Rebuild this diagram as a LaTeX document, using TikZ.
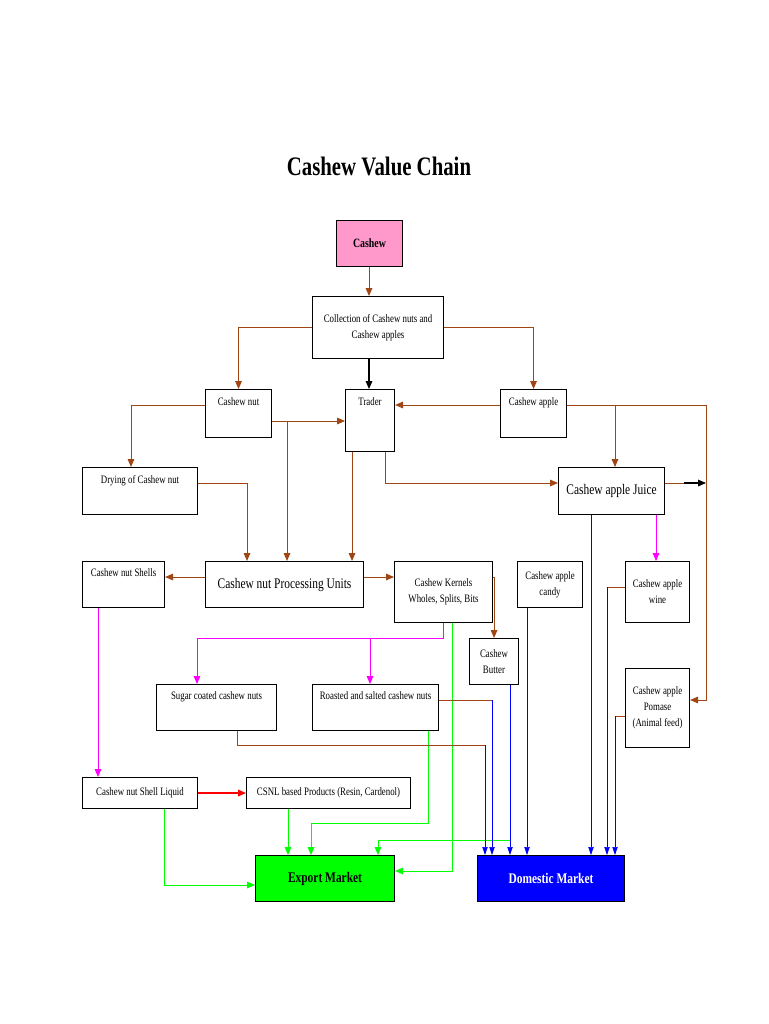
\documentclass[tikz,border=0pt]{standalone}
\usepackage{fontspec}
\setmainfont{Liberation Serif}[FakeStretch=0.78]
\usetikzlibrary{arrows.meta,calc}
\definecolor{br}{RGB}{160,70,20}
\definecolor{pk}{RGB}{255,153,204}
\definecolor{mg}{RGB}{255,0,255}
\definecolor{gr}{RGB}{0,255,0}
\definecolor{bl}{RGB}{0,0,255}
\begin{document}
\begin{tikzpicture}[x=0.75pt,y=-0.75pt,
  box/.style={draw,line width=0.8pt,align=center,inner sep=1pt,font=\fontsize{8.5}{12}\selectfont},
  ba/.style={draw=br,line width=0.7pt,-{Triangle[length=6pt,width=5pt]}},
  bn/.style={draw=br,line width=0.7pt},
  ka/.style={draw=black,line width=0.8pt,-{Triangle[length=6pt,width=5pt]}},
  ma/.style={draw=mg,line width=0.6pt,-{Triangle[length=6pt,width=5pt]}},
  ga/.style={draw=gr,line width=0.7pt,-{Triangle[length=6pt,width=5pt]}},
  la/.style={draw=bl,line width=0.5pt,-{Triangle[length=6pt,width=4pt]}},
  ra/.style={draw=red,line width=1pt,-{Triangle[length=6pt,width=5pt]}}]
\useasboundingbox (0,0) rectangle (768,1024);
\newcommand\bx[7][]{\node[box,#1,minimum width={(#5-#3)*0.75pt},minimum height={(#6-#4)*0.75pt},anchor=north west] (#2) at (#3,#4) {#7};}
\node[font=\fontsize{20}{24}\selectfont\bfseries] (title) at (379,166) {Cashew Value Chain};
\bx[fill=pk,font=\fontsize{9.5}{12}\selectfont\bfseries]{cw}{336}{220}{402}{266}{Cashew}
\bx{col}{312}{296}{443}{358}{Collection of Cashew nuts and\\Cashew apples}
\bx{nut}{205}{389}{271}{437}{Cashew nut\\[6pt]}
\bx{tr}{345}{389}{394}{451}{Trader\\[16pt]}
\bx{ap}{500}{389}{566}{437}{Cashew apple\\[6pt]}
\bx{dry}{82}{467}{197}{514}{Drying of Cashew nut\\[6pt]}
\bx[font=\fontsize{11}{13}\selectfont]{ju}{558}{467}{664}{514}{Cashew apple Juice}
\bx{sh}{82}{561}{164}{607}{Cashew nut Shells\\[6pt]}
\bx[font=\fontsize{11}{13}\selectfont]{pu}{205}{561}{363}{607}{Cashew nut Processing Units}
\bx{ke}{394}{561}{492}{622}{Cashew Kernels\\Wholes, Splits, Bits}
\bx{ca}{517}{561}{582}{607}{Cashew apple\\candy}
\bx{wi}{625}{561}{689}{622}{Cashew apple\\wine}
\bx{bu}{469}{638}{518}{684}{Cashew\\Butter}
\bx{su}{156}{684}{276}{730}{Sugar coated cashew nuts\\[6pt]}
\bx{ro}{312}{684}{438}{730}{Roasted and salted cashew nuts\\[6pt]}
\bx{po}{625}{668}{689}{747}{Cashew apple\\Pomase\\(Animal feed)}
\bx{cl}{82}{777}{197}{808}{Cashew nut Shell Liquid}
\bx{cp}{246}{777}{410}{808}{CSNL based Products (Resin, Cardenol)}
\bx[fill=gr,font=\fontsize{11}{13}\selectfont\bfseries]{ex}{255}{855}{394}{901}{Export Market}
\bx[fill=bl,text=white,font=\fontsize{11}{13}\selectfont\bfseries]{dm}{477}{855}{624}{901}{Domestic Market}
% brown
\draw[ba] (369,0|-cw.south) -- (369,0|-col.north);
\draw[ba] (col.west) -| (nut.north);
\draw[ba] (col.east) -| (ap.north);
\draw[ka] (369,0|-col.south) -- (369,0|-tr.north);
\draw[ba] (nut.west|-0,405) -| (131,0|-dry.north);
\draw[ba] (nut.east|-0,421) -- (tr.west|-0,421);
\draw[ba] (287,421) -- (287,0|-pu.north);
\draw[ba] (dry.east|-0,483) -| (247,0|-pu.north);
\draw[ba] (352,0|-tr.south) -- (352,0|-pu.north);
\draw[ba] (385,0|-tr.south) |- (ju.west|-0,483);
\draw[ba] (ap.west|-0,405) -- (tr.east|-0,405);
\draw[ba] (ap.east|-0,405) -- (706,405) |- (po.east|-0,700);
\draw[ba] (615,405) -- (615,0|-ju.north);
\draw[bn] (ju.east|-0,483) -- (684,483);
\draw[ka] (684,483) -- (706,483);
\draw[ba] (pu.west|-0,577) -- (sh.east|-0,577);
\draw[ba] (pu.east|-0,577) -- (ke.west|-0,577);
\draw[ba] (ke.east|-0,577) -| (bu.north);
% magenta
\draw[ma] (656,0|-ju.south) -- (656,0|-wi.north);
\draw[ma] (443,0|-ke.south) |- (197,638) -- (197,0|-su.north);
\draw[ma] (370,638) -- (370,0|-ro.north);
\draw[ma] (98,0|-sh.south) -- (98,0|-cl.north);
\draw[ra] (cl) -- (cp);
% green
\draw[ga] (452,0|-ke.south) |- (ex.east|-0,871);
\draw[ga] (164,0|-cl.south) |- (ex.west|-0,885);
\draw[ga] (288,0|-cp.south) -- (288,0|-ex.north);
\draw[ga] (428,0|-ro.south) |- (311,823) -- (311,0|-ex.north);
\draw[ga] (510,840) -| (378,0|-ex.north);
% blue
\draw[bn] (su.south-|237,0) |- (485,745);
\draw[la] (485,745) -- (485,0|-dm.north);
\draw[bn] (ro.east|-0,700) -- (492,700);
\draw[la] (492,700) -- (492,0|-dm.north);
\draw[la] (510,0|-bu.south) -- (510,0|-dm.north);
\draw[la] (527,0|-ca.south) -- (527,0|-dm.north);
\draw[la] (591,0|-ju.south) -- (591,0|-dm.north);
\draw[bn] (wi.west|-0,587) -- (607,587);
\draw[la] (607,587) -- (607,0|-dm.north);
\draw[bn] (po.west|-0,716) -- (615,716);
\draw[la] (615,716) -- (615,0|-dm.north);
\end{tikzpicture}
\end{document}
